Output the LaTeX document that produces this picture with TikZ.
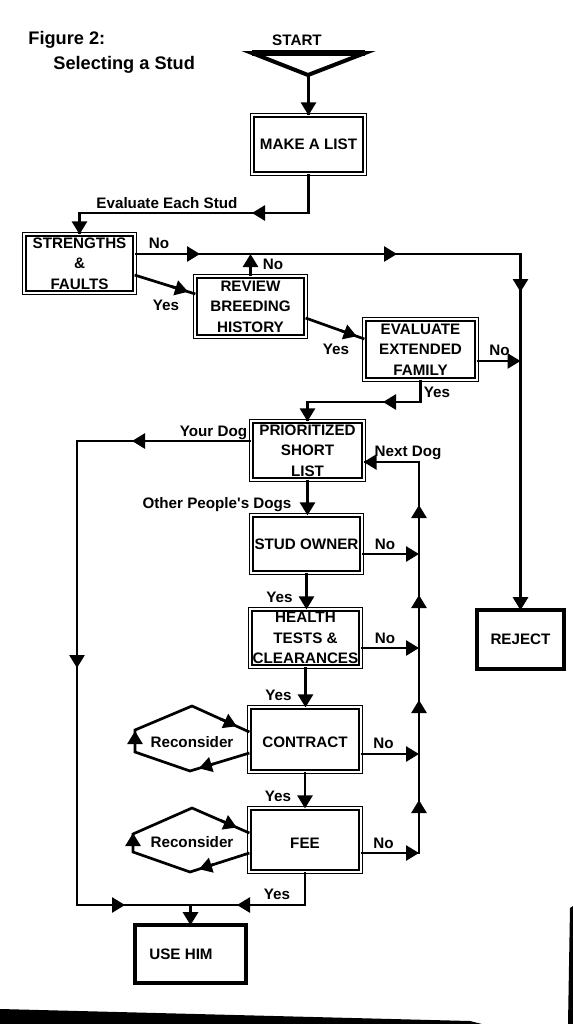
\documentclass[tikz,border=0pt]{standalone}
\usepackage{fontspec}
\setmainfont{Liberation Sans}
\newfontfamily\nomapfont{Liberation Sans}
\usetikzlibrary{arrows.meta,calc}
\begin{document}
\begin{tikzpicture}[x=0.5pt,y=-0.5pt,
  every node/.style={font=\bfseries\fontsize{7.6}{10.25}\selectfont},
  dbox/.style={draw, double, line width=0.7pt, double distance=1pt, inner sep=1pt, outer sep=0pt, align=center},
  tbox/.style={draw, line width=2.2pt, inner sep=1pt, outer sep=0pt, align=center},
  lbl/.style={inner sep=0pt, text height=5.4pt, text depth=0pt},
  ttl/.style={inner sep=0pt, anchor=west, text height=6.5pt, text depth=0pt, font=\bfseries\fontsize{9.1}{11}\selectfont},
  conn/.style={line width=1.35pt},
  ar/.style={line width=1.35pt, -{Triangle[length=6.5pt,width=7.5pt]}},
]
\useasboundingbox (0,0) rectangle (573,1024);

% titles
\node[ttl] (t1) at (28,38) {Figure 2:};
\node[ttl] (t2) at (53,63) {Selecting a Stud};

% start
\node[lbl] (startlbl) at (297,40) {START};
\draw[line width=2pt, line join=miter] (252,53) -- (365,53) -- (308,75) -- cycle;
\draw[line width=3pt] (252,53) -- (365,53);
\coordinate (st) at (308.5,76);

% boxes
\node[dbox, minimum width=56.1pt, minimum height=29.1pt] (make) at (308.5,144.5) {MAKE A LIST};
\node[dbox, minimum width=55.1pt, minimum height=29.1pt] (sf) at (79.5,263.5) {STRENGTHS\\\&\\FAULTS};
\node[dbox, minimum width=55.1pt, minimum height=30.1pt] (rbh) at (250.5,306.5) {REVIEW\\BREEDING\\HISTORY};
\node[dbox, minimum width=56.1pt, minimum height=30.1pt] (eef) at (420.5,349.5) {EVALUATE\\EXTENDED\\FAMILY};
\node[dbox, minimum width=56.1pt, minimum height=29.1pt] (psl) at (307.5,450.5) {PRIORITIZED\\SHORT\\LIST};
\node[dbox, minimum width=55.1pt, minimum height=28.6pt] (so) at (306.5,544) {STUD OWNER};
\node[dbox, minimum width=55.1pt, minimum height=28.6pt] (htc) at (305.5,638) {HEALTH\\TESTS \&\\CLEARANCES};
\node[dbox, minimum width=55.6pt, minimum height=32.1pt, text height=7.9pt, text depth=0pt] (con) at (305,739.5) {CONTRACT};
\node[dbox, minimum width=55.6pt, minimum height=31.6pt, text height=8.4pt, text depth=0pt] (fee) at (305,840) {FEE};
\node[tbox, minimum width=43.3pt, minimum height=29.3pt] (rej) at (520.5,639.5) {REJECT};
\node[tbox, minimum width=55.3pt, minimum height=28.8pt] (use) at (190.5,954) {USE HIM\hspace{9.5pt}};

% start -> make
\draw[conn] (st) -- (make.north);
\draw[ar] ([yshift=7pt]make.north) -- (make.north);

% make -> strengths
\coordinate (ev2) at (79.5,213);
\draw[conn] (make.south) |- (ev2) -- (sf.north);
\draw[ar] (270,213) -- (252,213);
\draw[ar] ([yshift=7pt]sf.north) -- (sf.north);
\node[lbl] (evl) at (167,203) {Evaluate Each Stud};

% strengths No -> reject
\coordinate (sfno) at ([yshift=4.75pt]sf.east);
\draw[conn] (sfno) -| (rej.north);
\draw[ar] (185,254) -- (200,254);
\draw[ar] (382,254) -- (397,254);
\draw[ar] (520.5,277) -- (520.5,292);
\draw[ar] ([yshift=7pt]rej.north) -- (rej.north);
\node[lbl] (l1) at (159,243) {No};

% review No up
\coordinate (rno) at (rbh.north |- sfno);
\draw[ar] (rbh.north) -- (rno);
\node[lbl] (l2) at (273,264) {No};

% strengths Yes -> review
\coordinate (sy1) at ([yshift=-5.75pt]sf.east);
\coordinate (sy2) at ([yshift=6.25pt]rbh.west);
\draw[conn] (sy1) -- (sy2);
\draw[ar] ($(sy1)!0.6!(sy2)$) -- ($(sy1)!0.88!(sy2)$);
\node[lbl] (l3) at (166,305) {Yes};

% review Yes -> evaluate
\coordinate (ry1) at ([yshift=-5.75pt]rbh.east);
\coordinate (ry2) at ([yshift=5.25pt]eef.west);
\draw[conn] (ry1) -- (ry2);
\draw[ar] ($(ry1)!0.6!(ry2)$) -- ($(ry1)!0.87!(ry2)$);
\node[lbl] (l4) at (336,349) {Yes};

% evaluate No -> reject line
\coordinate (eno) at ([yshift=-5.75pt]eef.east);
\draw[ar] (eno) -- (eno -| rej.north);
\node[lbl] (l5) at (499.5,350) {No};

% evaluate Yes -> prioritized
\coordinate (ey) at (420.5,402);
\draw[conn] (eef.south) -- (ey) -| (psl.north);
\draw[ar] (397,402) -- (383,402);
\draw[ar] ([yshift=7pt]psl.north) -- (psl.north);
\node[lbl] (l6) at (437,392) {Yes};

% Your Dog -> use him
\coordinate (yd) at ([yshift=4.75pt]psl.west);
\coordinate (bl) at (77,905);
\coordinate (bj) at (190.5,905);
\draw[conn] (yd) -| (bl) -- (bj);
\draw[ar] (146,441) -- (132,441);
\draw[ar] (77,654) -- (77,668);
\draw[ar] (111,905) -- (125,905);
\node[lbl] (l7) at (213.5,431) {Your Dog};

% fee Yes -> use him
\draw[conn] (fee.south) |- (bj);
\draw[ar] (251,905) -- (237,905);
\draw[ar] (bj) -- (use.north);
\node[lbl] (l8) at (277,894) {Yes};

% main column
\draw[ar] (psl.south) -- (psl.south |- so.north);
\node[lbl] (l9) at (217,503) {\nomapfont\bfseries Other People's Dogs};
\draw[ar] (so.south) -- (so.south |- htc.north);
\node[lbl] (l10) at (279.5,597) {Yes};
\draw[ar] (htc.south) -- (htc.south |- con.north);
\node[lbl] (l11) at (278.5,695) {Yes};
\draw[ar] (con.south) -- (con.south |- fee.north);
\node[lbl] (l12) at (278,796) {Yes};

% No lines -> Next Dog
\coordinate (son) at ([yshift=-5pt]so.east);
\coordinate (htn) at ([yshift=-5pt]htc.east);
\coordinate (con1) at ([yshift=-7.25pt]con.east);
\coordinate (fen) at ([yshift=-6.5pt]fee.east);
\coordinate (nd) at ([yshift=-5.75pt]psl.east);
\coordinate (vt) at (419,462);
\draw[conn] (fen) -- (419,853) -- (vt) -- (nd);
\draw[ar] (son) -- (419,554);
\draw[ar] (htn) -- (419,648);
\draw[ar] (con1) -- (419,754);
\draw[ar] (fen) -- (419,853);
\draw[ar] (419,519) -- (419,505);
\draw[ar] (419,609) -- (419,595);
\draw[ar] (419,714) -- (419,700);
\draw[ar] (419,814) -- (419,800);
\draw[ar] (382,462) -- (nd);
\node[lbl] (l13) at (408,451) {Next Dog};
\node[lbl] (l14) at (385,544) {No};
\node[lbl] (l15) at (385,638) {No};
\node[lbl] (l16) at (383.5,743) {No};
\node[lbl] (l17) at (383.5,843) {No};

% Reconsider loops
\coordinate (cx1) at ([yshift=-6.75pt]con.west);
\coordinate (cx2) at ([yshift=3.75pt]con.west);
\coordinate (cb) at (190,771);
\coordinate (ct) at (192,706);
\draw[conn] (cx1) -- (cb) -- (135,752) -- (135,730) -- (ct) -- (cx2);
\draw[ar] ($(cx1)!0.6!(cb)$) -- ($(cx1)!0.85!(cb)$);
\draw[ar] (135,748) -- (135,731);
\draw[ar] ($(ct)!0.5!(cx2)$) -- ($(ct)!0.78!(cx2)$);
\node[lbl] (l18) at (192,742) {Reconsider};

\coordinate (fx1) at ([yshift=-6.5pt]fee.west);
\coordinate (fx2) at ([yshift=3.5pt]fee.west);
\coordinate (fb) at (190,872);
\coordinate (ft) at (192,808);
\draw[conn] (fx1) -- (fb) -- (133,852) -- (133,834) -- (ft) -- (fx2);
\draw[ar] ($(fx1)!0.6!(fb)$) -- ($(fx1)!0.85!(fb)$);
\draw[ar] (133,850) -- (133,833);
\draw[ar] ($(ft)!0.5!(fx2)$) -- ($(ft)!0.78!(fx2)$);
\node[lbl] (l19) at (192,842) {Reconsider};

% scan edges
\fill (0,1009) -- (470,1021) -- (482,1024) -- (0,1024) -- cycle;
\fill (570,908) -- (573,906) -- (573,1024) -- (568,1024) -- cycle;
\end{tikzpicture}
\end{document}
